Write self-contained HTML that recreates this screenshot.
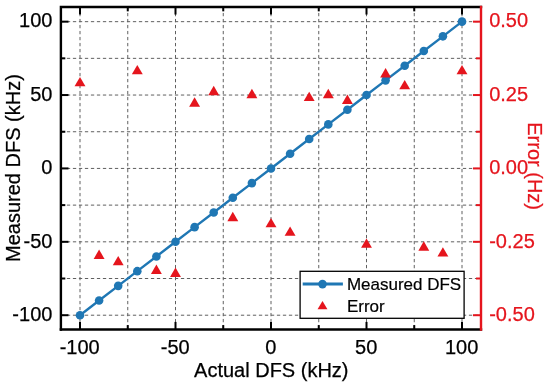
<!DOCTYPE html>
<html lang="en"><head><meta charset="utf-8"><title>Measured DFS vs Actual DFS</title>
<style>html,body{margin:0;padding:0;background:#fff}svg{display:block}</style></head>
<body>
<svg width="550" height="387" viewBox="0 0 550 387" font-family="'Liberation Sans', sans-serif">
<rect width="550" height="387" fill="#fff"/>
<g stroke="#606060" stroke-width="1" stroke-dasharray="3.3 2.7" fill="none">
<path d="M80.00 6.95 V329.5"/>
<path d="M60.9 315.21 H481.0"/>
<path d="M127.75 6.95 V329.5"/>
<path d="M60.9 278.51 H481.0"/>
<path d="M175.50 6.95 V329.5"/>
<path d="M60.9 241.82 H481.0"/>
<path d="M223.25 6.95 V329.5"/>
<path d="M60.9 205.12 H481.0"/>
<path d="M271.00 6.95 V329.5"/>
<path d="M60.9 168.43 H481.0"/>
<path d="M318.75 6.95 V329.5"/>
<path d="M60.9 131.74 H481.0"/>
<path d="M366.50 6.95 V329.5"/>
<path d="M60.9 95.04 H481.0"/>
<path d="M414.25 6.95 V329.5"/>
<path d="M60.9 58.35 H481.0"/>
<path d="M462.00 6.95 V329.5"/>
<path d="M60.9 21.66 H481.0"/>
</g>
<g stroke="#000" stroke-width="2" fill="none">
<path d="M60.9 315.21 h7.6"/>
<path d="M80.00 6.95 v7.6"/>
<path d="M80.00 329.5 v-7.6"/>
<path d="M60.9 278.51 h4.4"/>
<path d="M127.75 6.95 v4.4"/>
<path d="M127.75 329.5 v-4.4"/>
<path d="M60.9 241.82 h7.6"/>
<path d="M175.50 6.95 v7.6"/>
<path d="M175.50 329.5 v-7.6"/>
<path d="M60.9 205.12 h4.4"/>
<path d="M223.25 6.95 v4.4"/>
<path d="M223.25 329.5 v-4.4"/>
<path d="M60.9 168.43 h7.6"/>
<path d="M271.00 6.95 v7.6"/>
<path d="M271.00 329.5 v-7.6"/>
<path d="M60.9 131.74 h4.4"/>
<path d="M318.75 6.95 v4.4"/>
<path d="M318.75 329.5 v-4.4"/>
<path d="M60.9 95.04 h7.6"/>
<path d="M366.50 6.95 v7.6"/>
<path d="M366.50 329.5 v-7.6"/>
<path d="M60.9 58.35 h4.4"/>
<path d="M414.25 6.95 v4.4"/>
<path d="M414.25 329.5 v-4.4"/>
<path d="M60.9 21.66 h7.6"/>
<path d="M462.00 6.95 v7.6"/>
<path d="M462.00 329.5 v-7.6"/>
</g>
<g stroke="#e5151d" stroke-width="2" fill="none">
<path d="M481.0 315.21 h-8"/>
<path d="M481.0 278.51 h-5"/>
<path d="M481.0 241.82 h-8"/>
<path d="M481.0 205.12 h-5"/>
<path d="M481.0 168.43 h-8"/>
<path d="M481.0 131.74 h-5"/>
<path d="M481.0 95.04 h-8"/>
<path d="M481.0 58.35 h-5"/>
<path d="M481.0 21.66 h-8"/>
</g>
<polyline points="80.00,315.21 99.10,300.53 118.20,285.85 137.30,271.17 156.40,256.50 175.50,241.82 194.60,227.14 213.70,212.46 232.80,197.79 251.90,183.11 271.00,168.43 290.10,153.75 309.20,139.07 328.30,124.40 347.40,109.72 366.50,95.04 385.60,80.36 404.70,65.69 423.80,51.01 442.90,36.33 462.00,21.66" fill="none" stroke="#1f77b4" stroke-width="2.4"/>
<g fill="#1f77b4">
<circle cx="80.00" cy="315.21" r="4.3"/>
<circle cx="99.10" cy="300.53" r="4.3"/>
<circle cx="118.20" cy="285.85" r="4.3"/>
<circle cx="137.30" cy="271.17" r="4.3"/>
<circle cx="156.40" cy="256.50" r="4.3"/>
<circle cx="175.50" cy="241.82" r="4.3"/>
<circle cx="194.60" cy="227.14" r="4.3"/>
<circle cx="213.70" cy="212.46" r="4.3"/>
<circle cx="232.80" cy="197.79" r="4.3"/>
<circle cx="251.90" cy="183.11" r="4.3"/>
<circle cx="271.00" cy="168.43" r="4.3"/>
<circle cx="290.10" cy="153.75" r="4.3"/>
<circle cx="309.20" cy="139.07" r="4.3"/>
<circle cx="328.30" cy="124.40" r="4.3"/>
<circle cx="347.40" cy="109.72" r="4.3"/>
<circle cx="366.50" cy="95.04" r="4.3"/>
<circle cx="385.60" cy="80.36" r="4.3"/>
<circle cx="404.70" cy="65.69" r="4.3"/>
<circle cx="423.80" cy="51.01" r="4.3"/>
<circle cx="442.90" cy="36.33" r="4.3"/>
<circle cx="462.00" cy="21.66" r="4.3"/>
</g>
<g fill="#e5151d">
<path d="M80.00 77.00 L85.45 86.35 H74.55 Z"/>
<path d="M99.10 249.60 L104.55 258.95 H93.65 Z"/>
<path d="M118.20 256.00 L123.65 265.35 H112.75 Z"/>
<path d="M137.30 64.95 L142.75 74.30 H131.85 Z"/>
<path d="M156.40 264.60 L161.85 273.95 H150.95 Z"/>
<path d="M175.50 267.55 L180.95 276.90 H170.05 Z"/>
<path d="M194.60 97.35 L200.05 106.70 H189.15 Z"/>
<path d="M213.70 85.80 L219.15 95.15 H208.25 Z"/>
<path d="M232.80 211.80 L238.25 221.15 H227.35 Z"/>
<path d="M251.90 88.80 L257.35 98.15 H246.45 Z"/>
<path d="M271.00 218.00 L276.45 227.35 H265.55 Z"/>
<path d="M290.10 226.50 L295.55 235.85 H284.65 Z"/>
<path d="M309.20 91.75 L314.65 101.10 H303.75 Z"/>
<path d="M328.30 88.80 L333.75 98.15 H322.85 Z"/>
<path d="M347.40 94.55 L352.85 103.90 H341.95 Z"/>
<path d="M366.50 238.40 L371.95 247.75 H361.05 Z"/>
<path d="M385.60 68.10 L391.05 77.45 H380.15 Z"/>
<path d="M404.70 79.90 L410.15 89.25 H399.25 Z"/>
<path d="M423.80 241.30 L429.25 250.65 H418.35 Z"/>
<path d="M442.90 247.20 L448.35 256.55 H437.45 Z"/>
<path d="M462.00 65.00 L467.45 74.35 H456.55 Z"/>
</g>
<path d="M60.9 329.5 V6.95 H481.0" fill="none" stroke="#000" stroke-width="2.4" stroke-linecap="square"/>
<path d="M60.9 329.5 H481.0" fill="none" stroke="#000" stroke-width="2.4" stroke-linecap="square"/>
<path d="M481.0 5.75 V330.7" fill="none" stroke="#e5151d" stroke-width="2.4"/>
<g font-size="20" fill="#000" stroke="#000" stroke-width="0.25">
<text x="79.70" y="353.9" text-anchor="middle">-100</text>
<text x="52.4" y="321.01" text-anchor="end">-100</text>
<text x="175.20" y="353.9" text-anchor="middle">-50</text>
<text x="52.4" y="247.62" text-anchor="end">-50</text>
<text x="270.70" y="353.9" text-anchor="middle">0</text>
<text x="52.4" y="174.23" text-anchor="end">0</text>
<text x="366.20" y="353.9" text-anchor="middle">50</text>
<text x="52.4" y="100.84" text-anchor="end">50</text>
<text x="461.70" y="353.9" text-anchor="middle">100</text>
<text x="52.4" y="27.46" text-anchor="end">100</text>
<text x="271.3" y="376.8" text-anchor="middle">Actual DFS (kHz)</text>
<text transform="translate(20.3 168.1) rotate(-90)" text-anchor="middle">Measured DFS (kHz)</text>
</g>
<g font-size="20" fill="#e5151d" stroke="#e5151d" stroke-width="0.25">
<text x="489.2" y="320.91">-0.50</text>
<text x="489.2" y="247.52">-0.25</text>
<text x="489.2" y="174.13">0.00</text>
<text x="489.2" y="100.74">0.25</text>
<text x="489.2" y="27.36">0.50</text>
<text transform="translate(528.2 166.1) rotate(90)" text-anchor="middle">Error (Hz)</text>
</g>
<rect x="300.1" y="271.3" width="164.0" height="47.0" fill="#fff" stroke="#000" stroke-width="1.3"/>
<path d="M302.7 284.1 H342.9" stroke="#1f77b4" stroke-width="3"/>
<circle cx="322.5" cy="284.1" r="4.3" fill="#1f77b4"/>
<g fill="#e5151d"><path d="M322.50 300.90 L327.45 309.30 H317.55 Z"/></g>
<g font-size="17" fill="#000" stroke="#000" stroke-width="0.2">
<text x="346.9" y="290.2">Measured DFS</text>
<text x="346.9" y="312.3">Error</text>
</g>
</svg>
</body></html>
